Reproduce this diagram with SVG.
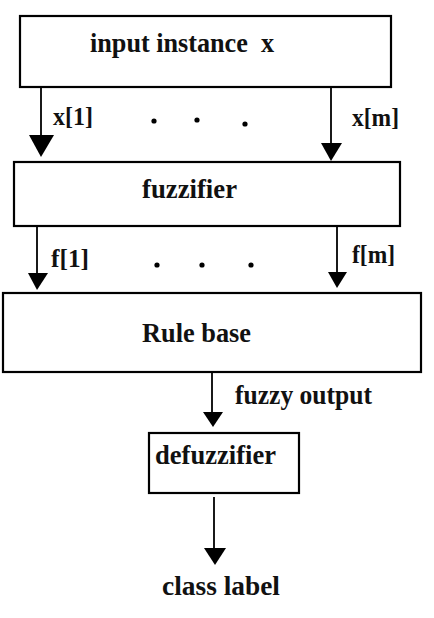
<svg xmlns="http://www.w3.org/2000/svg" width="434" height="618" viewBox="0 0 434 618">
<style>
.box{fill:#fff;stroke:#000;stroke-width:2.2}
.t{font-family:"Liberation Serif","Times New Roman",serif;font-weight:bold;font-size:27px;fill:#111}
.lbl{font-family:"Liberation Serif","Times New Roman",serif;font-weight:bold;font-size:25px;fill:#111}
.ln{stroke:#000;stroke-width:1.8;fill:none}
.hd{fill:#000}
.dot{fill:#000}
</style>
<rect width="434" height="618" fill="#fff"/>
<g id="input">
<rect class="box" x="20" y="16" width="371" height="71"/>
<text class="t" x="90" y="52" textLength="184" lengthAdjust="spacingAndGlyphs" xml:space="preserve">input instance  x</text>
</g>
<g id="fuzzifier">
<rect class="box" x="14" y="162" width="386" height="64"/>
<text class="t" x="142" y="198" textLength="95" lengthAdjust="spacingAndGlyphs">fuzzifier</text>
</g>
<g id="rulebase">
<rect class="box" x="3" y="293" width="418" height="79"/>
<text class="t" x="142" y="342" textLength="109" lengthAdjust="spacingAndGlyphs">Rule base</text>
</g>
<g id="defuzzifier">
<rect class="box" x="149" y="433" width="150" height="60"/>
<text class="t" x="155" y="464" textLength="121" lengthAdjust="spacingAndGlyphs">defuzzifier</text>
</g>
<g id="classlabel">
<text class="t" x="162" y="595" textLength="118" lengthAdjust="spacingAndGlyphs">class label</text>
</g>
<g id="connectors">
<line class="ln" x1="41" y1="87" x2="41" y2="140"/>
<polygon class="hd" points="29,135 54,135 41,157"/>
<line class="ln" x1="331" y1="87" x2="331" y2="148"/>
<polygon class="hd" points="321,143 342,143 331,161"/>
<line class="ln" x1="37" y1="226" x2="37" y2="278"/>
<polygon class="hd" points="28,273 48,273 37,290"/>
<line class="ln" x1="337" y1="226" x2="337" y2="277"/>
<polygon class="hd" points="328,272 347,272 337,288"/>
<line class="ln" x1="212" y1="372" x2="212" y2="416"/>
<polygon class="hd" points="203,412 223,412 213,427"/>
<line class="ln" x1="214" y1="497" x2="214" y2="552"/>
<polygon class="hd" points="204,548 226,548 215,565"/>
<text class="lbl" x="53" y="125" textLength="40" lengthAdjust="spacingAndGlyphs">x[1]</text>
<text class="lbl" x="352" y="126" textLength="47" lengthAdjust="spacingAndGlyphs">x[m]</text>
<text class="lbl" x="51" y="267" textLength="38" lengthAdjust="spacingAndGlyphs">f[1]</text>
<text class="lbl" x="352" y="263" textLength="43" lengthAdjust="spacingAndGlyphs">f[m]</text>
<text class="t" x="235" y="404" textLength="137" lengthAdjust="spacingAndGlyphs">fuzzy output</text>
<circle class="dot" cx="154" cy="121" r="2.6"/>
<circle class="dot" cx="197" cy="120" r="2.6"/>
<circle class="dot" cx="245" cy="124" r="2.6"/>
<circle class="dot" cx="157" cy="265" r="2.6"/>
<circle class="dot" cx="202" cy="265" r="2.6"/>
<circle class="dot" cx="251" cy="265" r="2.6"/>
</g>
</svg>
